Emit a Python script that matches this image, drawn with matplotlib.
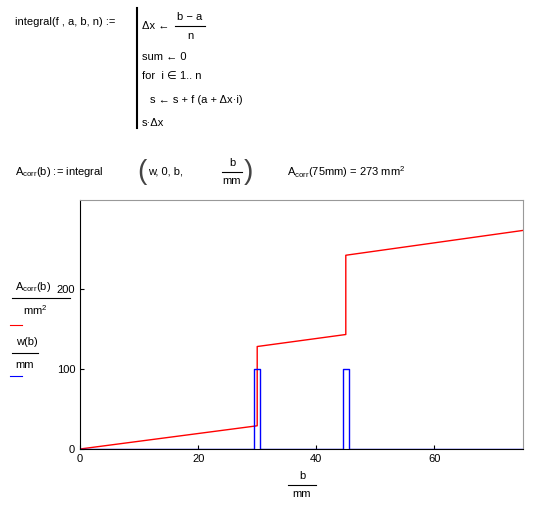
import matplotlib.pyplot as plt

plt.rcParams['font.family'] = ['Liberation Sans', 'DejaVu Sans']
plt.rcParams['mathtext.fontset'] = 'custom'
plt.rcParams['mathtext.rm'] = 'Liberation Sans'
plt.rcParams['mathtext.it'] = 'Liberation Sans'

# integral A_corr(b) / mm^2
b_red = [0, 30, 30, 45, 45, 75]
a_red = [0, 29, 128, 143, 242, 273]
# w(b) / mm
b_blue = [0, 29.5, 29.5, 30.5, 30.5, 44.5, 44.5, 45.5, 45.5, 75]
w_blue = [0, 0, 100, 100, 0, 0, 100, 100, 0, 0]
xticks = [0, 20, 40, 60]
yticks = [0, 100, 200]

W, H = 543, 517
fig = plt.figure(figsize=(W / 100, H / 100), dpi=100)
ax = fig.add_axes([80 / W, (H - 449) / H, 443 / W, 249 / H])
ax.plot(b_red, a_red, color='#ff0000', lw=1)
ax.plot(b_blue, w_blue, color='#0000ff', lw=1)
ax.set_xlim(0, 75)
ax.set_ylim(0, 311)
ax.set_xticks(xticks)
ax.set_yticks(yticks)
ax.tick_params(direction='in', length=3, labelsize=8)
for s in ['top', 'right']:
    ax.spines[s].set_color('#999999')


def t(x, y, s, **kw):
    fig.text(x / W, 1 - y / H, s, fontsize=8, va='center', **kw)


def hline(x0, x1, y, c='black'):
    fig.add_artist(plt.Line2D([x0 / W, x1 / W], [1 - y / H, 1 - y / H], color=c, lw=0.8))


# program block
t(15, 22, 'integral(f , a, b, n) :=')
fig.add_artist(plt.Line2D([137 / W, 137 / W], [1 - 8 / H, 1 - 128 / H], color='black', lw=1.5))
t(142, 26, 'Δx ←')
t(190, 17, 'b − a', ha='center')
hline(175, 205, 26)
t(190, 36, 'n', ha='center')
t(142, 57, 'sum ← 0')
t(142, 76, 'for  i ∈ 1.. n')
t(150, 100, 's ← s + f (a + Δx·i)')
t(142, 123, 's·Δx')

t(15, 172, r'A$_{\rm corr}$(b) := integral')
fig.text(137 / W, 1 - 172 / H, '(', fontsize=20, va='center', color='#444444')
t(148, 172, 'w, 0, b,')
t(232, 163, 'b', ha='center')
hline(222, 242, 172)
t(232, 181, 'mm', ha='center')
fig.text(244 / W, 1 - 172 / H, ')', fontsize=20, va='center', color='#444444')
t(287, 172, r'A$_{\rm corr}$(75mm) = 273 mm$^{2}$')

# axis label stack
t(15, 287, r'A$_{\rm corr}$(b)')
hline(12, 70, 298)
t(35, 310, r'mm$^{2}$', ha='center')
hline(10, 22, 325, 'red')
t(16, 342, 'w(b)')
hline(12, 38, 353)
t(25, 365, 'mm', ha='center')
hline(10, 22, 376, 'blue')

t(302, 476, 'b', ha='center')
hline(288, 316, 485)
t(302, 494, 'mm', ha='center')

fig.savefig('out.png', dpi=100)
